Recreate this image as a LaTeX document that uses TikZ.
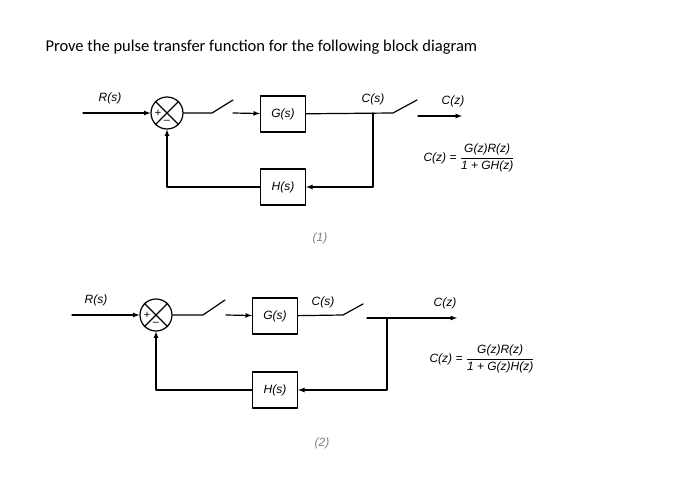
\documentclass[tikz,border=0pt]{standalone}
\usepackage{fontspec}
\setmainfont{Liberation Sans}
\newfontfamily\titlefont{Carlito}
\usetikzlibrary{positioning}
\tikzset{
  blk/.style={draw,line width=1.2pt,minimum width=45pt,minimum height=36pt,inner sep=0pt,font=\itshape\fontsize{12}{14}\selectfont},
  sumj/.style={draw,line width=1.2pt,circle,minimum size=32pt,inner sep=0pt},
  lbl/.style={font=\itshape\fontsize{12}{14}\selectfont},
  sgn/.style={font=\fontsize{11}{11}\selectfont,inner sep=0pt},
  sig/.style={line width=1.2pt,-latex},
  wire/.style={line width=1.2pt}
}
\begin{document}
\begin{tikzpicture}[x=1pt,y=-1pt,line cap=round,line join=round]
\useasboundingbox (0,0) rectangle (681,486);
\node[anchor=west,font=\titlefont\fontsize{16.5}{19}\selectfont] (title) at (42,47) {Prove the pulse transfer function for the following block diagram};
% diagram (1)
\coordinate (in1) at (83,113);
\node[sumj] (sum1) at (167,113) {};
\draw[wire] (sum1.north west) -- (sum1.south east) (sum1.north east) -- (sum1.south west);
\node[sgn] at ([xshift=-9pt]sum1.center) {+};
\node[sgn] at ([yshift=-9pt]sum1.center) {--};
\node[lbl] (r1) at (110,98) {R(s)};
\coordinate (sa1) at (212,113);
\coordinate (sb1) at (233,100);
\coordinate (sc1) at (233,113);
\node[blk] (g1) at (283,114) {G(s)};
\node[blk] (h1) at (283,187) {H(s)};
\coordinate (br1) at (373,113);
\coordinate (sd1) at (393,113);
\coordinate (se1) at (417,100);
\coordinate (o1a) at (418,116);
\coordinate (o1b) at (462,116);
\node[lbl] (cs1) at (373,99) {C(s)};
\node[lbl] (cz1) at (453,101) {C(z)};
\draw[sig] (in1) -- (sum1);
\draw[wire] (sum1) -- (sa1) -- (sb1);
\draw[sig] (sc1) -- (g1);
\draw[wire] (g1) -- (sd1) -- (se1);
\draw[sig] (o1a) -- (o1b);
\draw[sig] (br1) |- (h1);
\draw[sig] (h1) -| (sum1);
\node[lbl,anchor=west] (eq1) at (420,158) {C(z) = $\displaystyle\frac{\mbox{\itshape G(z)R(z)}}{\mbox{\itshape 1 + GH(z)}}$};
\node[lbl,text=gray] (n1) at (320,238) {(1)};
% diagram (2)
\coordinate (in2) at (72,315);
\node[sumj] (sum2) at (156,315) {};
\draw[wire] (sum2.north west) -- (sum2.south east) (sum2.north east) -- (sum2.south west);
\node[sgn] at ([xshift=-9pt]sum2.center) {+};
\node[sgn] at ([yshift=-9pt]sum2.center) {--};
\node[lbl] (r2) at (96,300) {R(s)};
\coordinate (sa2) at (203,315);
\coordinate (sb2) at (225,300);
\coordinate (sc2) at (226,315);
\node[blk] (g2) at (275,316) {G(s)};
\node[blk] (h2) at (275,390) {H(s)};
\coordinate (sd2) at (343,315);
\coordinate (se2) at (363,304);
\coordinate (o2a) at (367,318);
\coordinate (br2) at (387,318);
\coordinate (o2b) at (457,318);
\node[lbl] (cs2) at (323,302) {C(s)};
\node[lbl] (cz2) at (445,303) {C(z)};
\draw[sig] (in2) -- (sum2);
\draw[wire] (sum2) -- (sa2) -- (sb2);
\draw[sig] (sc2) -- (g2);
\draw[wire] (g2) -- (sd2) -- (se2);
\draw[sig] (o2a) -- (o2b);
\draw[sig] (br2) |- (h2);
\draw[sig] (h2) -| (sum2);
\node[lbl,anchor=west] (eq2) at (426,359) {C(z) = $\displaystyle\frac{\mbox{\itshape G(z)R(z)}}{\mbox{\itshape 1 + G(z)H(z)}}$};
\node[lbl,text=gray] (n2) at (322,443) {(2)};
\end{tikzpicture}
\end{document}
